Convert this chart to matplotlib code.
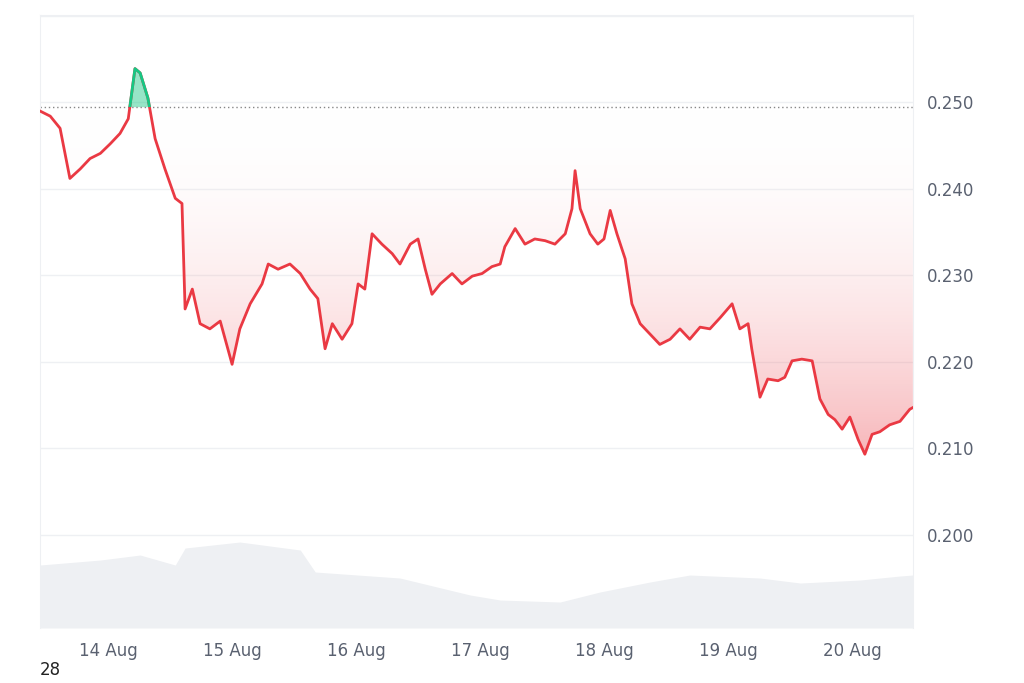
import matplotlib
matplotlib.use("Agg")
import matplotlib.pyplot as plt
import numpy as np
from matplotlib.patches import Rectangle
from matplotlib.colors import LinearSegmentedColormap

hours = [-13.2,-11.2,-9.3,-7.4,-5.4,-3.5,-1.5,0.4,2.3,3.9,5.2,6.2,7.7,9.1,11.0,13.0,14.3,14.9,16.3,17.8,19.7,21.7,24.0,25.5,27.5,29.8,31.0,32.9,35.2,37.2,39.1,40.6,42.0,43.4,45.3,47.2,48.4,49.7,51.1,53.0,55.0,56.5,58.5,60.0,61.4,62.7,64.3,66.6,68.5,70.5,72.4,74.3,75.9,76.8,78.8,80.7,82.6,84.6,86.5,88.5,89.8,90.4,91.4,93.3,94.8,96.0,97.2,98.5,100.1,101.4,103.0,104.9,106.8,108.8,110.7,112.6,114.6,116.5,118.5,120.8,122.3,123.9,124.6,126.2,127.7,129.7,131.0,132.4,134.3,136.3,137.8,139.4,140.7,142.1,143.6,145.2,146.5,147.9,149.4,151.3,153.3,155.2,155.8]
price = [0.2490,0.2484,0.2470,0.2412,0.2423,0.2435,0.2441,0.2452,0.2464,0.2481,0.2539,0.2534,0.2505,0.2458,0.2423,0.2389,0.2383,0.2261,0.2284,0.2244,0.2238,0.2247,0.2197,0.2238,0.2267,0.2290,0.2313,0.2307,0.2313,0.2302,0.2284,0.2273,0.2215,0.2244,0.2226,0.2244,0.2290,0.2284,0.2348,0.2336,0.2325,0.2313,0.2336,0.2342,0.2307,0.2278,0.2290,0.2302,0.2290,0.2299,0.2302,0.2310,0.2313,0.2333,0.2354,0.2336,0.2342,0.2340,0.2336,0.2348,0.2377,0.2421,0.2377,0.2348,0.2336,0.2342,0.2375,0.2348,0.2319,0.2267,0.2244,0.2232,0.2220,0.2226,0.2238,0.2226,0.2240,0.2238,0.2251,0.2267,0.2238,0.2244,0.2215,0.2159,0.2180,0.2178,0.2182,0.2201,0.2203,0.2201,0.2157,0.2139,0.2133,0.2122,0.2136,0.2110,0.2093,0.2116,0.2119,0.2127,0.2131,0.2145,0.2147]
vol_hours = [-13.2,-1.5,6.2,13.0,14.9,25.5,37.2,40.1,56.5,70.1,75.9,87.5,95.2,104.9,112.6,126.2,134.0,145.6,153.3,155.8]
volume = [63,68,73,63,80,86,78,56,50,33,28,26,36,46,53,50,45,48,52,53]
baseline = 0.2495
tick_days = ["14 Aug","15 Aug","16 Aug","17 Aug","18 Aug","19 Aug","20 Aug"]
yticks = [0.200,0.210,0.220,0.230,0.240,0.250]

RED = "#ea3943"; GREEN = "#16c784"
fig = plt.figure(figsize=(10.24,6.83), dpi=100)
ax = fig.add_axes([0.039,0.0805,0.8525,0.8975])
x = np.array(hours); p = np.array(price)
ylo, yhi = 0.1892, 0.2601

axv = ax.twinx()
axv.set_ylim(0, 613)
axv.fill_between(vol_hours, 0, volume, color="#eef0f3", lw=0, zorder=0)
axv.set_yticks([])
for s in axv.spines.values(): s.set_visible(False)
ax.set_zorder(axv.get_zorder()+1); ax.patch.set_visible(False)

# red gradient fill clipped to region between line and baseline
xs = np.linspace(x[0], x[-1], 2000)
ps = np.interp(xs, x, p)
clip = ax.fill_between(xs, np.minimum(ps, baseline), baseline, color="none", lw=0)
grad = np.linspace(0,1,256).reshape(-1,1)
cmap = LinearSegmentedColormap.from_list("r", [(1,1,1,0),(0.92,0.22,0.26,0.38)])
im = ax.imshow(grad, extent=[x[0],x[-1],baseline,0.2085], origin="lower", aspect="auto", cmap=cmap, zorder=1)
im.set_clip_path(clip.get_paths()[0], transform=ax.transData)
ax.fill_between(xs, baseline, np.maximum(ps, baseline), color=GREEN, alpha=0.45, lw=0, zorder=1)
ax.set_ylim(ylo, yhi); ax.set_xlim(x[0], x[-1])

ax.plot(x, p, color=RED, lw=2, zorder=3)
lg, = ax.plot(x, p, color=GREEN, lw=2, zorder=4)
lg.set_clip_path(Rectangle((x[0], baseline), x[-1]-x[0], 1, transform=ax.transData))
ax.axhline(baseline, color="#888", ls=(0,(1,2)), lw=1, zorder=2)

for yv in yticks + [0.260]:
    ax.axhline(yv, color="#eef0f3", lw=1, zorder=0)
ax.set_yticks(yticks)
ax.set_yticklabels([f"{v:.3f}" for v in yticks])
ax.yaxis.tick_right()
ax.set_xticks([24*i for i in range(7)])
ax.set_xticklabels(tick_days)
ax.tick_params(length=0, labelsize=12, colors="#5a6170", pad=10)
for k, s in ax.spines.items():
    s.set_color("#eef0f3")
ax.spines["bottom"].set_visible(False)
fig.text(0.039, 0.012, "28", fontsize=12, color="#222")
fig.savefig("out.png")
